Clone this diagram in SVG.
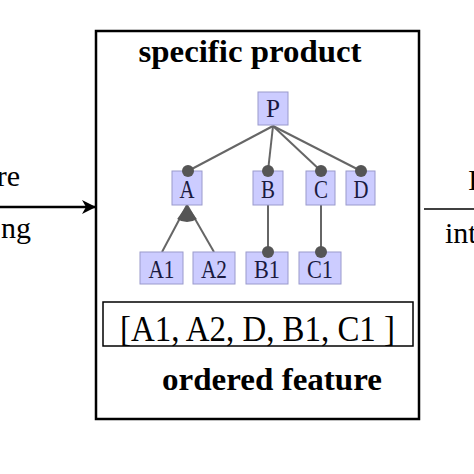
<svg xmlns="http://www.w3.org/2000/svg" width="474" height="474" viewBox="0 0 474 474">
<defs>
<style>
.lbl{font-family:"Liberation Serif","Times New Roman",serif;fill:#000}
.bold{font-weight:bold}
.node rect{fill:#ccccff;stroke:#9a9acc;stroke-width:1}
.node text{font-family:"Liberation Serif","Times New Roman",serif;font-size:26px;fill:#1a1a40;text-anchor:middle}
.conn line{stroke:#666;stroke-width:2}
.dot{fill:#555}
</style>
<marker id="ah" markerWidth="14" markerHeight="14" refX="13" refY="7" orient="auto" markerUnits="userSpaceOnUse">
<path d="M0,0 L14,7 L0,14 L4,7 Z" fill="#000"/>
</marker>
</defs>
<rect width="474" height="474" fill="#fff"/>
<!-- left input -->
<text class="lbl" x="20" y="186" font-size="30" text-anchor="end">re</text>
<text class="lbl" x="31" y="238" font-size="30" text-anchor="end">ng</text>
<line x1="0" y1="207" x2="95" y2="207" stroke="#000" stroke-width="2.5" marker-end="url(#ah)"/>
<!-- right output -->
<line x1="424" y1="209" x2="474" y2="209" stroke="#000" stroke-width="1.5"/>
<text class="lbl" x="468" y="190" font-size="30">I</text>
<text class="lbl" x="445" y="243" font-size="30">int</text>
<!-- main box -->
<g id="box">
<rect x="96" y="31" width="323" height="388" fill="none" stroke="#000" stroke-width="2.5"/>
<text class="lbl bold" x="250" y="62" font-size="31" text-anchor="middle" textLength="223" lengthAdjust="spacingAndGlyphs">specific product</text>
<text class="lbl bold" x="272" y="390" font-size="31" text-anchor="middle" textLength="220" lengthAdjust="spacingAndGlyphs">ordered feature</text>
</g>
<g id="list">
<rect x="103" y="302" width="310" height="44" fill="none" stroke="#000" stroke-width="1.5"/>
<text class="lbl" x="120" y="341" font-size="35" textLength="275" lengthAdjust="spacingAndGlyphs">[A1, A2, D, B1, C1 ]</text>
</g>
<!-- connectors -->
<g id="connectors" class="conn">
<line x1="273" y1="126" x2="188" y2="171"/>
<line x1="273" y1="126" x2="268" y2="171"/>
<line x1="273" y1="126" x2="321" y2="171"/>
<line x1="273" y1="126" x2="361" y2="171"/>
<line x1="187" y1="205" x2="162" y2="252"/>
<line x1="187" y1="205" x2="214" y2="252"/>
<line x1="268" y1="205" x2="268" y2="252"/>
<line x1="321" y1="205" x2="321" y2="252"/>
</g>
<!-- nodes -->
<g id="P" class="node"><rect x="258" y="92" width="30" height="33"/><text x="273" y="117" textLength="14" lengthAdjust="spacingAndGlyphs">P</text></g>
<g id="A" class="node"><rect x="172" y="171" width="30" height="34"/><text x="187" y="198" textLength="15" lengthAdjust="spacingAndGlyphs">A</text></g>
<g id="B" class="node"><rect x="253" y="171" width="30" height="34"/><text x="268" y="198" textLength="14" lengthAdjust="spacingAndGlyphs">B</text></g>
<g id="C" class="node"><rect x="306" y="171" width="29" height="34"/><text x="321" y="198" textLength="14" lengthAdjust="spacingAndGlyphs">C</text></g>
<g id="D" class="node"><rect x="346" y="171" width="29" height="34"/><text x="361" y="198" textLength="15" lengthAdjust="spacingAndGlyphs">D</text></g>
<g id="A1" class="node"><rect x="140" y="252" width="43" height="32"/><text x="161.5" y="278" textLength="26" lengthAdjust="spacingAndGlyphs">A1</text></g>
<g id="A2" class="node"><rect x="193" y="252" width="42" height="32"/><text x="214" y="278" textLength="26" lengthAdjust="spacingAndGlyphs">A2</text></g>
<g id="B1" class="node"><rect x="246" y="252" width="42" height="32"/><text x="267" y="278" textLength="26" lengthAdjust="spacingAndGlyphs">B1</text></g>
<g id="C1" class="node"><rect x="299" y="252" width="42" height="32"/><text x="320" y="278" textLength="26" lengthAdjust="spacingAndGlyphs">C1</text></g>
<!-- decorations -->
<g id="markers">
<circle class="dot" cx="188" cy="171" r="6"/>
<circle class="dot" cx="268" cy="171" r="6"/>
<circle class="dot" cx="321" cy="171" r="6"/>
<circle class="dot" cx="361" cy="171" r="6"/>
<circle class="dot" cx="268" cy="252" r="6"/>
<circle class="dot" cx="321" cy="252" r="6"/>
<path class="dot" d="M187,205 L177.2,218.9 A17,17 0 0 0 196.8,218.9 Z"/>
</g>
</svg>
